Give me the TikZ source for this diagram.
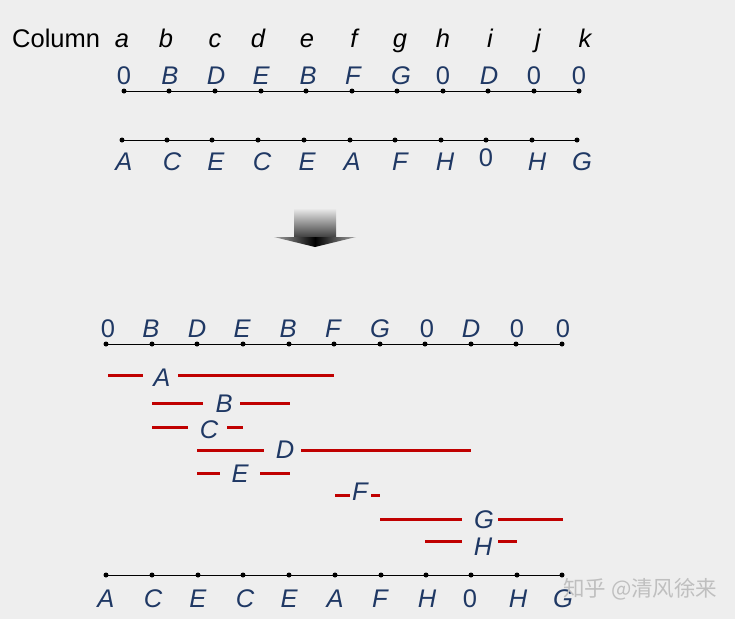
\documentclass[tikz,border=0pt]{standalone}
\usepackage{fontspec}
\setmainfont{Liberation Sans}
\newfontfamily\cjk{Noto Sans CJK SC}
\definecolor{bg}{HTML}{EEEEEE}
\definecolor{navy}{HTML}{1F3864}
\definecolor{segred}{HTML}{C00000}
\newcommand{\zr}{{\upshape 0}}
\begin{document}
\begin{tikzpicture}[x=1pt,y=-1pt,
 lab/.style={anchor=base, inner sep=0pt, font=\fontsize{25.5}{25.5}\selectfont\itshape, text=navy},
 col/.style={anchor=base, inner sep=0pt, font=\fontsize{25.5}{25.5}\selectfont\itshape, text=black},
 dot/.style={circle, fill=black, inner sep=0pt, minimum size=5pt},
 axis/.style={draw=black, line width=1pt},
 seg/.style={draw=segred, line width=3pt}]
\fill[bg] (0,0) rectangle (735,619);
\useasboundingbox (0,0) rectangle (735,619);

% header
\node[anchor=base west, inner sep=0pt, font=\fontsize{25.5}{25.5}\selectfont] (column) at (12,47) {Column};
\foreach \x/\t in {122/a,166/b,215/c,258/d,307/e,354/f,400/g,443/h,490/i,538/j,585/k}
  \node[col] (c\t) at (\x,47) {\t};

% first array (top)
\foreach \x [count=\i] in {124,169,215,261,306,352,397,443,488,534,579}
  \node[dot] (t\i) at (\x,91) {};
\draw[axis] (t1.center) -- (t11.center);
\foreach \x/\t [count=\i] in {124/\zr,170/B,216/D,261/E,308/B,353/F,401/G,443/\zr,489/D,534/\zr,579/\zr}
  \node[lab] (tl\i) at (\x,84) {\t};

% second array (top)
\foreach \x [count=\i] in {122,167,212,258,304,350,395,441,486,532,577}
  \node[dot] (s\i) at (\x,140) {};
\draw[axis] (s1.center) -- (s11.center);
\foreach \x/\y/\t [count=\i] in {124/170/A,172/170/C,216/170/E,262/170/C,307/170/E,352/170/A,400/170/F,445/170/H,486/166/\zr,537/170/H,582/170/G}
  \node[lab] (sl\i) at (\x,\y) {\t};

% arrow
\shade[top color=bg, bottom color=black!75] (294,208) rectangle (336,237);
\shade[left color=black!35, right color=black!35, middle color=black] (274,237) -- (356,237) -- (315,247) -- cycle;

% lower first array
\foreach \x [count=\i] in {106,152,197,243,289,334,380,425,471,516,562}
  \node[dot] (u\i) at (\x,344) {};
\draw[axis] (u1.center) -- (u11.center);
\foreach \x/\t [count=\i] in {108/\zr,151/B,197/D,242/E,288/B,333/F,380/G,427/\zr,471/D,517/\zr,563/\zr}
  \node[lab] (ul\i) at (\x,337) {\t};

% interval rows
\foreach \r/\y/\lx/\ly/\la/\lb/\ra/\rb in {
  A/375/162/386/108/143/178/334,
  B/403/224/412/152/203/240/290,
  C/427/209/438/152/188/227/243,
  D/450/285/458/197/264/301/471,
  E/473/240/482/197/220/260/290,
  F/495/360/500/335/350/371/380,
  G/519/484/528/380/462/498/563,
  H/541/483/555/425/462/498/517}{
  \node[lab] (r\r) at (\lx,\ly) {\r};
  \coordinate (r\r l1) at (\la,\y);
  \coordinate (r\r l2) at (\lb,\y);
  \coordinate (r\r r1) at (\ra,\y);
  \coordinate (r\r r2) at (\rb,\y);
  \draw[seg] (r\r l1) -- (r\r l2);
  \draw[seg] (r\r r1) -- (r\r r2);
}

% lower second array
\foreach \x [count=\i] in {106,152,198,243,289,335,381,426,471,517,562}
  \node[dot] (v\i) at (\x,575) {};
\draw[axis] (v1.center) -- (v11.center);
\foreach \x/\t [count=\i] in {106/A,153/C,198/E,245/C,289/E,335/A,380/F,427/H,470/\zr,518/H,563/G}
  \node[lab] (vl\i) at (\x,607) {\t};

% watermark
\node[anchor=west, inner sep=0pt, font=\cjk\fontsize{21.5}{21.5}\selectfont, text=black!25] (wm) at (563,589) {知乎 @清风徐来};
\end{tikzpicture}
\end{document}
